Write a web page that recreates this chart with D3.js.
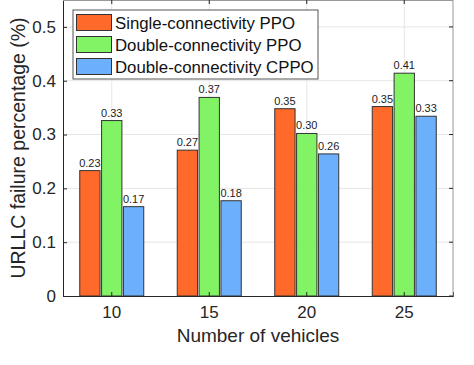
<!DOCTYPE html>
<html>
<head>
<meta charset="utf-8">
<script src="https://cdn.jsdelivr.net/npm/d3@7"></script>
<style>
  body { margin: 0; background: #fff; }
  svg { font-family: "Liberation Sans", Arial, sans-serif; }
</style>
</head>
<body>
<div id="chart"></div>
<script>
const vehicles = ['10', '15', '20', '25'];
const seriesNames = ['Single-connectivity PPO', 'Double-connectivity PPO', 'Double-connectivity CPPO'];
const singlePPO = [0.233, 0.271, 0.348, 0.352];
const doublePPO = [0.326, 0.369, 0.302, 0.414];
const doubleCPPO = [0.166, 0.177, 0.264, 0.334];
const barLabels = [
  ['0.23', '0.27', '0.35', '0.35'],
  ['0.33', '0.37', '0.30', '0.41'],
  ['0.17', '0.18', '0.26', '0.33']
];
const yTicks = [0, 0.1, 0.2, 0.3, 0.4, 0.5];
const colors = ['#ff6a2a', '#83f366', '#6cb0fc'];

const series = [singlePPO, doublePPO, doubleCPPO];

const W = 474, H = 365;
const margin = { top: 0, right: 21, bottom: 69, left: 63 };
const width = W - margin.left - margin.right,
  height = H - margin.top - margin.bottom;

const svg = d3.select('#chart').append('svg')
  .attr('width', W).attr('height', H)
  .append('g')
  .attr('transform', 'translate(' + margin.left + ',' + margin.top + ')');

const x = d3.scaleBand().domain(vehicles).range([0, width]).padding(0);
const y = d3.scaleLinear().domain([0, 0.55]).range([height, 0]);
const sub = d3.scaleBand().domain(d3.range(3)).range([-32, 32]).paddingInner(0.07);

// grid
svg.append('g').selectAll('line.h').data(yTicks.slice(1)).enter().append('line')
  .attr('x1', 0).attr('x2', width)
  .attr('y1', d => y(d)).attr('y2', d => y(d))
  .attr('stroke', '#e6e6e6').attr('stroke-width', 1);
svg.append('g').selectAll('line.v').data(vehicles).enter().append('line')
  .attr('x1', d => x(d) + x.bandwidth() / 2).attr('x2', d => x(d) + x.bandwidth() / 2)
  .attr('y1', 0).attr('y2', height)
  .attr('stroke', '#e6e6e6').attr('stroke-width', 1);

// bars
series.forEach((vals, si) => {
  const g = svg.append('g');
  g.selectAll('rect').data(vals).enter().append('rect')
    .attr('x', (d, i) => x(vehicles[i]) + x.bandwidth() / 2 + sub(si))
    .attr('y', d => y(d))
    .attr('width', sub.bandwidth())
    .attr('height', d => height - y(d))
    .attr('fill', colors[si])
    .attr('stroke', '#333').attr('stroke-width', 1);
  g.selectAll('text').data(vals).enter().append('text')
    .attr('x', (d, i) => x(vehicles[i]) + x.bandwidth() / 2 + sub(si) + sub.bandwidth() / 2)
    .attr('y', d => y(d) - 4)
    .attr('text-anchor', 'middle')
    .attr('font-size', 11)
    .attr('fill', '#222')
    .text((d, i) => barLabels[si][i]);
});

// axes box
const axisColor = '#262626';
const xAxis = svg.append('g').attr('transform', 'translate(0,' + height + ')')
  .call(d3.axisBottom(x).tickSize(-4).tickPadding(10));
const yAxis = svg.append('g')
  .call(d3.axisLeft(y).tickValues(yTicks).tickFormat(d => d === 0 ? '0' : d3.format('.1f')(d)).tickSize(-4).tickPadding(7));
[xAxis, yAxis].forEach(a => {
  a.selectAll('text').attr('font-size', 17).attr('fill', axisColor)
    .attr('font-family', '"Liberation Sans", Arial, sans-serif');
  a.selectAll('line').attr('stroke', axisColor);
  a.select('.domain').attr('stroke', axisColor);
});
// top and right
svg.append('line').attr('x1', 0).attr('x2', width).attr('y1', 0.5).attr('y2', 0.5).attr('stroke', '#999');
svg.append('line').attr('x1', width).attr('x2', width).attr('y1', 0).attr('y2', height).attr('stroke', '#999');
svg.append('g').selectAll('line').data(vehicles).enter().append('line')
  .attr('x1', d => x(d) + x.bandwidth() / 2).attr('x2', d => x(d) + x.bandwidth() / 2)
  .attr('y1', 0).attr('y2', 4).attr('stroke', axisColor);
svg.append('g').selectAll('line').data(yTicks).enter().append('line')
  .attr('x1', width).attr('x2', width - 4)
  .attr('y1', d => y(d)).attr('y2', d => y(d)).attr('stroke', axisColor);

// axis labels
svg.append('text')
  .attr('x', width / 2).attr('y', height + 46)
  .attr('text-anchor', 'middle').attr('font-size', 19).attr('fill', axisColor)
  .text('Number of vehicles');
svg.append('text')
  .attr('transform', 'translate(' + (-38) + ',' + (height / 2) + ') rotate(-90)')
  .attr('text-anchor', 'middle').attr('font-size', 19.5).attr('fill', axisColor)
  .text('URLLC failure percentage (%)');

// legend
const legend = svg.append('g').attr('transform', 'translate(10,10)');
legend.append('rect').attr('x', 0).attr('y', 0).attr('width', 245).attr('height', 69)
  .attr('fill', '#fff').attr('stroke', '#555');
seriesNames.forEach((name, i) => {
  legend.append('rect').attr('x', 3.5).attr('y', 4.5 + i * 22).attr('width', 35).attr('height', 16)
    .attr('fill', colors[i]).attr('stroke', '#333');
  legend.append('text').attr('x', 42).attr('y', 18.5 + i * 22)
    .attr('font-size', 16.8).attr('fill', '#111').text(name);
});
</script>
</body>
</html>
